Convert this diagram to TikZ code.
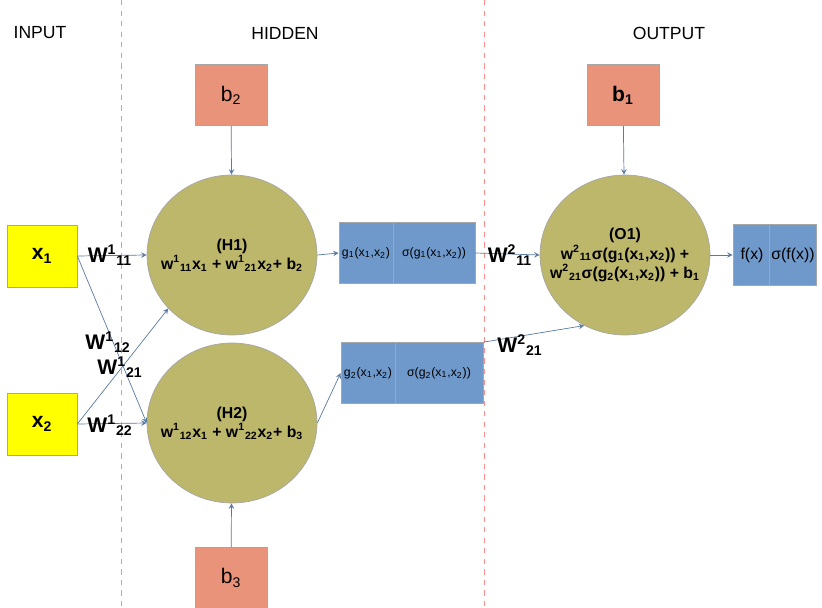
\documentclass[tikz,border=0pt]{standalone}
\usepackage{fontspec}
\setmainfont{Liberation Sans}
\usetikzlibrary{shapes.geometric}
\definecolor{bias}{HTML}{E9937A}
\definecolor{neuron}{HTML}{BDB76B}
\definecolor{act}{HTML}{6F98CB}
\definecolor{inp}{HTML}{FFFF00}
\newcommand{\sbs}[1]{\textsubscript{#1}}
\newcommand{\sps}[1]{\textsuperscript{#1}}
\tikzset{
  bias/.style={draw=gray!70, fill=bias, minimum width=1.44cm, minimum height=1.22cm, font=\large},
  inbox/.style={draw=gray!70, fill=inp, minimum width=1.4cm, minimum height=1.24cm, font=\large\bfseries},
  neuron/.style={ellipse, draw=gray!70, fill=neuron, minimum width=3.4cm, minimum height=3.2cm, inner sep=0pt},
  ntext/.style={align=center, font=\small\bfseries, inner sep=0pt},
  act/.style={draw=gray!70, fill=act, minimum height=1.22cm, font=\scriptsize, inner sep=1pt},
  arr/.style={->, >=stealth, draw=act!80!black},
  wt/.style={font=\large\bfseries, inner sep=0pt}
}
\begin{document}
\begin{tikzpicture}[x=0.02cm, y=-0.02cm]
\useasboundingbox (0,0) rectangle (822,608);
% Layers
\draw[red!45, dashed] (121,0) -- (121,608);
\draw[red!45, dashed] (484,0) -- (484,608);
\node at (40,33) {INPUT};
\node at (285,33) {HIDDEN};
\node at (669,33) {OUTPUT};
% Nodes
\node[bias] (b2) at (231,95) {b\sbs{2}};
\node[bias] (b3) at (231,578) {b\sbs{3}};
\node[bias, font=\large\bfseries] (b1) at (623,95) {b\sbs{1}};
\node[inbox] (x1) at (42,256) {x\sbs{1}};
\node[inbox] (x2) at (42,424) {x\sbs{2}};
\node[neuron] (h1) at (232,255) {};
\node[neuron] (h2) at (232,423) {};
\node[neuron] (o1) at (625,255) {};
\node[ntext] at (h1) {(H1)\\w\sps{1}\sbs{11}x\sbs{1} + w\sps{1}\sbs{21}x\sbs{2}+ b\sbs{2}};
\node[ntext] at (h2) {(H2)\\w\sps{1}\sbs{12}x\sbs{1} + w\sps{1}\sbs{22}x\sbs{2}+ b\sbs{3}};
\node[ntext] at (o1) {(O1)\\w\sps{2}\sbs{11}σ(g\sbs{1}(x\sbs{1},x\sbs{2})) +\\w\sps{2}\sbs{21}σ(g\sbs{2}(x\sbs{1},x\sbs{2})) + b\sbs{1}};
\node[act, minimum width=1.08cm] (g1a) at (366,253) {g\sbs{1}(x\sbs{1},x\sbs{2})};
\node[act, minimum width=1.64cm] (g1b) at (434,253) {σ(g\sbs{1}(x\sbs{1},x\sbs{2}))};
\node[act, minimum width=1.08cm] (g2a) at (368,373) {g\sbs{2}(x\sbs{1},x\sbs{2})};
\node[act, minimum width=1.76cm] (g2b) at (439,373) {σ(g\sbs{2}(x\sbs{1},x\sbs{2}))};
\node[act, minimum width=0.76cm, font=\small] (fa) at (752,255) {f(x)};
\node[act, minimum width=0.88cm, font=\small] (fb) at (793,255) {σ(f(x))};
% Connections
\draw[arr] (b2) -- (h1);
\draw[arr] (b3) -- (h2);
\draw[arr] (b1) -- (o1);
\draw[arr] (x1.east) -- (h1.west);
\draw[arr] (x1.east) -- (h2.west);
\draw[arr] (x2.east) -- (h1.220);
\draw[arr] (x2.east) -- (h2.west);
\draw[arr] (h1.east) -- (g1a.west);
\draw[arr] (h2.east) -- (g2a.west);
\draw[arr] (g1b.east) -- (o1.west);
\draw[arr] (g2b.north east) -- (o1.240);
\draw[arr] (o1.east) -- (fa.west);
% Weights
\node[wt] at (110,255) {W\sps{1}\sbs{11}};
\node[wt] at (108,342) {W\sps{1}\sbs{12}};
\node[wt] at (120,367) {W\sps{1}\sbs{21}};
\node[wt] at (110,425) {W\sps{1}\sbs{22}};
\node[wt] at (510,255) {W\sps{2}\sbs{11}};
\node[wt] at (520,345) {W\sps{2}\sbs{21}};
\end{tikzpicture}
\end{document}
